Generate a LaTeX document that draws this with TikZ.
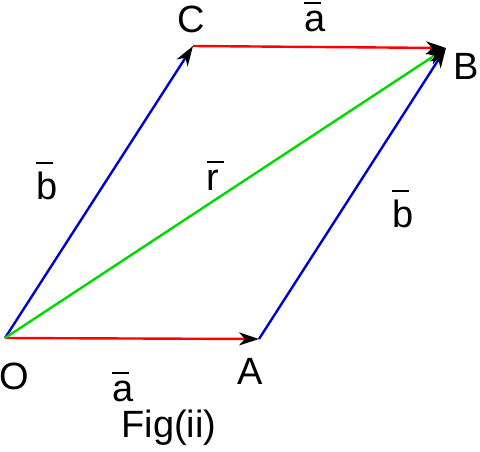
\documentclass[tikz,border=0pt]{standalone}
\usepackage{fontspec}
\setmainfont{Liberation Sans}
\usetikzlibrary{arrows.meta}

% letter with a bar over it
\newcommand\barred[1]{\setbox0\hbox{#1}%
  \rlap{\raisebox{\dimexpr\ht0+7pt\relax}{\rule{17pt}{2pt}}}\box0}

\begin{document}
\begin{tikzpicture}[x=1pt,y=-1pt,
    >={Stealth[black,length=20pt,width=13pt,inset=6pt]},
    vec/.style={->,line width=2.4pt},
    lbl/.style={font=\fontsize{38}{40}\selectfont,inner sep=0pt}]

  \useasboundingbox (0,0) rectangle (480,451);

  \coordinate (O) at (5,338);
  \coordinate (A) at (259,339);
  \coordinate (B) at (446,48);
  \coordinate (C) at (193,46);

  \draw[vec,red] (O) -- (A);
  \draw[vec,red] (C) -- (B);
  \draw[vec,blue!80!black] (O) -- (C);
  \draw[vec,blue!80!black] (A) -- (B);
  \draw[vec,green!85!black] (O) -- (B);

  \node[lbl] (lO) at (14,376) {O};
  \node[lbl] (lA) at (250,371) {A};
  \node[lbl] (lB) at (466,66) {B};
  \node[lbl] (lC) at (191,19) {C};
  \node[lbl,anchor=base] (a1) at (315,31) {\barred{a}};
  \node[lbl,anchor=base] (a2) at (123,401) {\barred{a}};
  \node[lbl,anchor=base] (b1) at (47,199) {\barred{b}};
  \node[lbl,anchor=base] (b2) at (403,227) {\barred{b}};
  \node[lbl,anchor=base] (r) at (213,190) {\barred{r}};
  \node[lbl] (fig) at (169,428) {Fig(ii)};

\end{tikzpicture}
\end{document}
